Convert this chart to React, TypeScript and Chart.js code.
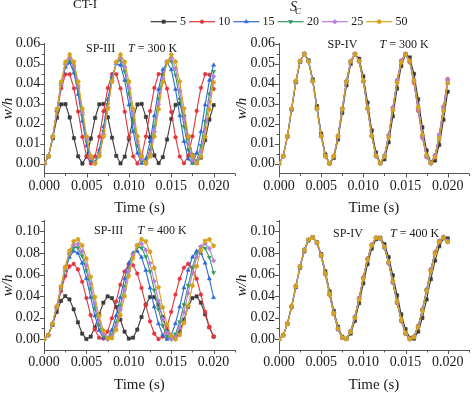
import React, { useEffect, useRef } from 'react';
import { Chart, registerables } from 'chart.js';
import { drawPoint } from 'chart.js/helpers';

Chart.register(...registerables);

// ---------------- data ----------------
const TIME = [0, 0.0005, 0.001, 0.0015, 0.002, 0.0025, 0.003, 0.0035, 0.004, 0.0045, 0.005, 0.0055, 0.006, 0.0065, 0.007, 0.0075, 0.008, 0.0085, 0.009, 0.0095, 0.01, 0.0105, 0.011, 0.0115, 0.012, 0.0125, 0.013, 0.0135, 0.014, 0.0145, 0.015, 0.0155, 0.016, 0.0165, 0.017, 0.0175, 0.018, 0.0185, 0.019, 0.0195, 0.02];
const SC_LABELS = ['5', '10', '15', '20', '25', '50'];
const X_MAJOR = [0, 0.005, 0.01, 0.015, 0.02];
const X_MINOR = [0.0025, 0.0075, 0.0125, 0.0175, 0.0225];
const Y_MAJOR_300 = [0, 0.01, 0.02, 0.03, 0.04, 0.05, 0.06];
const Y_MINOR_300 = [0.005, 0.015, 0.025, 0.035, 0.045, 0.055];
const Y_MAJOR_400 = [0, 0.02, 0.04, 0.06, 0.08, 0.1];
const Y_MINOR_400 = [0.01, 0.03, 0.05, 0.07, 0.09, 0.11];

// SP-III, T = 300 K
const TL_5 = [0, 0.0036, 0.0126, 0.0229, 0.0296, 0.0297, 0.0230, 0.0127, 0.0036, 0, 0.0035, 0.0125, 0.0228, 0.0296, 0.0298, 0.0231, 0.0129, 0.0038, 0.0001, 0.0034, 0.0123, 0.0226, 0.0295, 0.0298, 0.0233, 0.0131, 0.0040, 0.0002, 0.0032, 0.0120, 0.0223, 0.0293, 0.0299, 0.0235, 0.0133, 0.0042, 0.0003, 0.0030, 0.0117, 0.0220, 0.0292];
const TL_10 = [0, 0.0036, 0.0133, 0.0260, 0.0376, 0.0446, 0.0446, 0.0376, 0.0260, 0.0133, 0.0036, 0, 0.0036, 0.0134, 0.0261, 0.0377, 0.0447, 0.0446, 0.0375, 0.0259, 0.0132, 0.0036, 0, 0.0037, 0.0135, 0.0262, 0.0378, 0.0447, 0.0445, 0.0374, 0.0258, 0.0131, 0.0035, 0.0001, 0.0038, 0.0136, 0.0263, 0.0379, 0.0447, 0.0444, 0.0373];
const TL_15 = [0, 0.0036, 0.0134, 0.0266, 0.0394, 0.0482, 0.0504, 0.0453, 0.0346, 0.0212, 0.0089, 0.0013, 0.0006, 0.0069, 0.0185, 0.0320, 0.0436, 0.0499, 0.0492, 0.0416, 0.0293, 0.0159, 0.0052, 0.0001, 0.0023, 0.0111, 0.0239, 0.0371, 0.0469, 0.0505, 0.0469, 0.0371, 0.0239, 0.0111, 0.0023, 0.0001, 0.0052, 0.0159, 0.0293, 0.0416, 0.0492];
const TL_20 = [0, 0.0036, 0.0134, 0.0267, 0.0398, 0.0491, 0.0520, 0.0477, 0.0374, 0.0239, 0.0111, 0.0023, 0.0002, 0.0051, 0.0159, 0.0295, 0.0421, 0.0502, 0.0517, 0.0460, 0.0348, 0.0212, 0.0089, 0.0013, 0.0006, 0.0069, 0.0185, 0.0322, 0.0442, 0.0511, 0.0511, 0.0441, 0.0322, 0.0185, 0.0069, 0.0006, 0.0013, 0.0089, 0.0212, 0.0348, 0.0460];
const TL_25 = [0, 0.0036, 0.0135, 0.0268, 0.0401, 0.0497, 0.0530, 0.0490, 0.0389, 0.0255, 0.0123, 0.0029, 0.0000, 0.0043, 0.0147, 0.0282, 0.0413, 0.0504, 0.0529, 0.0483, 0.0377, 0.0241, 0.0111, 0.0023, 0.0001, 0.0051, 0.0159, 0.0296, 0.0424, 0.0509, 0.0528, 0.0475, 0.0364, 0.0227, 0.0100, 0.0018, 0.0003, 0.0060, 0.0172, 0.0310, 0.0435];
const TL_50 = [0, 0.0037, 0.0136, 0.0273, 0.0409, 0.0508, 0.0545, 0.0508, 0.0409, 0.0273, 0.0136, 0.0037, 0, 0.0037, 0.0136, 0.0273, 0.0409, 0.0508, 0.0545, 0.0508, 0.0409, 0.0273, 0.0136, 0.0037, 0.0001, 0.0036, 0.0135, 0.0272, 0.0408, 0.0508, 0.0545, 0.0509, 0.0410, 0.0274, 0.0137, 0.0038, 0.0001, 0.0035, 0.0134, 0.0270, 0.0406];

// SP-IV, T = 300 K
const TR_5 = [0, 0.0036, 0.0135, 0.0270, 0.0406, 0.0508, 0.0548, 0.0516, 0.0421, 0.0287, 0.0149, 0.0045, 0.0001, 0.0028, 0.0120, 0.0253, 0.0391, 0.0498, 0.0547, 0.0524, 0.0435, 0.0304, 0.0165, 0.0055, 0.0002, 0.0021, 0.0106, 0.0236, 0.0375, 0.0488, 0.0545, 0.0530, 0.0448, 0.0321, 0.0181, 0.0065, 0.0005, 0.0015, 0.0093, 0.0219, 0.0359];
const TR_10 = [0, 0.0037, 0.0137, 0.0274, 0.0411, 0.0511, 0.0548, 0.0511, 0.0411, 0.0274, 0.0137, 0.0037, 0, 0.0037, 0.0137, 0.0274, 0.0411, 0.0511, 0.0548, 0.0511, 0.0411, 0.0274, 0.0137, 0.0037, 0.0001, 0.0040, 0.0142, 0.0280, 0.0417, 0.0515, 0.0548, 0.0506, 0.0402, 0.0263, 0.0128, 0.0032, 0.0001, 0.0042, 0.0145, 0.0285, 0.0422];
const TR_15 = [0, 0.0037, 0.0136, 0.0273, 0.0410, 0.0510, 0.0548, 0.0512, 0.0412, 0.0275, 0.0138, 0.0038, 0, 0.0036, 0.0136, 0.0273, 0.0410, 0.0511, 0.0548, 0.0512, 0.0412, 0.0276, 0.0139, 0.0039, 0.0001, 0.0036, 0.0135, 0.0271, 0.0408, 0.0509, 0.0547, 0.0513, 0.0414, 0.0278, 0.0141, 0.0040, 0.0002, 0.0035, 0.0133, 0.0269, 0.0406];
const TR_20 = [0, 0.0037, 0.0137, 0.0274, 0.0411, 0.0511, 0.0548, 0.0511, 0.0411, 0.0274, 0.0137, 0.0037, 0, 0.0037, 0.0137, 0.0274, 0.0411, 0.0511, 0.0548, 0.0511, 0.0411, 0.0274, 0.0137, 0.0037, 0, 0.0037, 0.0137, 0.0274, 0.0411, 0.0511, 0.0548, 0.0511, 0.0411, 0.0274, 0.0137, 0.0037, 0, 0.0037, 0.0137, 0.0274, 0.0411];
const TR_25 = [0, 0.0037, 0.0137, 0.0275, 0.0412, 0.0512, 0.0548, 0.0510, 0.0410, 0.0273, 0.0136, 0.0036, 0, 0.0038, 0.0139, 0.0276, 0.0413, 0.0512, 0.0548, 0.0510, 0.0409, 0.0272, 0.0135, 0.0035, 0.0001, 0.0039, 0.0141, 0.0279, 0.0416, 0.0514, 0.0548, 0.0508, 0.0406, 0.0268, 0.0131, 0.0033, 0.0001, 0.0040, 0.0143, 0.0281, 0.0418];
const TR_50 = [0, 0.0038, 0.0138, 0.0275, 0.0412, 0.0512, 0.0547, 0.0510, 0.0410, 0.0273, 0.0136, 0.0036, 0.0001, 0.0036, 0.0135, 0.0272, 0.0409, 0.0510, 0.0547, 0.0512, 0.0413, 0.0276, 0.0139, 0.0039, 0.0002, 0.0034, 0.0132, 0.0268, 0.0405, 0.0506, 0.0546, 0.0514, 0.0417, 0.0282, 0.0145, 0.0043, 0.0003, 0.0032, 0.0128, 0.0263, 0.0402];

// SP-III, T = 400 K
const BL_5 = [0, 0.0037, 0.0134, 0.0255, 0.0356, 0.0400, 0.0370, 0.0278, 0.0157, 0.0052, 0.0002, 0.0024, 0.0111, 0.0231, 0.0339, 0.0397, 0.0382, 0.0300, 0.0182, 0.0070, 0.0006, 0.0014, 0.0090, 0.0206, 0.0321, 0.0391, 0.0391, 0.0321, 0.0206, 0.0090, 0.0014, 0.0006, 0.0070, 0.0182, 0.0300, 0.0382, 0.0397, 0.0339, 0.0231, 0.0111, 0.0024];
const BL_10 = [0, 0.0037, 0.0139, 0.0286, 0.0446, 0.0586, 0.0676, 0.0699, 0.0648, 0.0534, 0.0382, 0.0224, 0.0091, 0.0013, 0.0006, 0.0071, 0.0194, 0.0350, 0.0506, 0.0629, 0.0694, 0.0687, 0.0609, 0.0476, 0.0318, 0.0166, 0.0052, 0.0001, 0.0024, 0.0114, 0.0254, 0.0414, 0.0561, 0.0663, 0.0700, 0.0663, 0.0561, 0.0414, 0.0254, 0.0114, 0.0024];
const BL_15 = [0, 0.0038, 0.0145, 0.0300, 0.0476, 0.0640, 0.0761, 0.0818, 0.0799, 0.0707, 0.0562, 0.0388, 0.0218, 0.0083, 0.0010, 0.0010, 0.0084, 0.0218, 0.0388, 0.0562, 0.0708, 0.0799, 0.0818, 0.0761, 0.0640, 0.0476, 0.0300, 0.0144, 0.0038, 0.0000, 0.0038, 0.0145, 0.0301, 0.0477, 0.0641, 0.0762, 0.0818, 0.0798, 0.0707, 0.0561, 0.0387];
const BL_20 = [0, 0.0037, 0.0143, 0.0299, 0.0478, 0.0648, 0.0780, 0.0852, 0.0849, 0.0774, 0.0638, 0.0467, 0.0289, 0.0135, 0.0033, 0.0000, 0.0042, 0.0152, 0.0310, 0.0489, 0.0658, 0.0787, 0.0854, 0.0847, 0.0767, 0.0629, 0.0456, 0.0278, 0.0127, 0.0029, 0.0001, 0.0047, 0.0161, 0.0321, 0.0500, 0.0667, 0.0793, 0.0856, 0.0844, 0.0760, 0.0619];
const BL_25 = [0, 0.0038, 0.0145, 0.0302, 0.0484, 0.0659, 0.0798, 0.0877, 0.0883, 0.0815, 0.0683, 0.0512, 0.0329, 0.0166, 0.0050, 0.0001, 0.0027, 0.0124, 0.0276, 0.0456, 0.0634, 0.0781, 0.0870, 0.0887, 0.0829, 0.0707, 0.0539, 0.0356, 0.0188, 0.0063, 0.0003, 0.0018, 0.0106, 0.0251, 0.0428, 0.0609, 0.0762, 0.0861, 0.0889, 0.0843, 0.0729];
const BL_50 = [0, 0.0038, 0.0145, 0.0304, 0.0490, 0.0671, 0.0819, 0.0909, 0.0927, 0.0870, 0.0747, 0.0579, 0.0391, 0.0216, 0.0081, 0.0009, 0.0010, 0.0086, 0.0223, 0.0400, 0.0587, 0.0754, 0.0874, 0.0928, 0.0907, 0.0813, 0.0663, 0.0481, 0.0296, 0.0139, 0.0034, 0.0000, 0.0041, 0.0151, 0.0312, 0.0498, 0.0679, 0.0824, 0.0912, 0.0926, 0.0866];

// SP-IV, T = 400 K
const BR_5 = [0, 0.0037, 0.0142, 0.0298, 0.0482, 0.0664, 0.0816, 0.0915, 0.0945, 0.0901, 0.0790, 0.0629, 0.0444, 0.0264, 0.0116, 0.0024, 0.0002, 0.0053, 0.0170, 0.0334, 0.0519, 0.0698, 0.0841, 0.0927, 0.0942, 0.0883, 0.0761, 0.0593, 0.0407, 0.0231, 0.0093, 0.0013, 0.0006, 0.0071, 0.0199, 0.0370, 0.0557, 0.0730, 0.0863, 0.0936, 0.0936];
const BR_10 = [0, 0.0038, 0.0147, 0.0307, 0.0495, 0.0679, 0.0831, 0.0925, 0.0946, 0.0892, 0.0771, 0.0602, 0.0412, 0.0232, 0.0091, 0.0012, 0.0007, 0.0076, 0.0209, 0.0384, 0.0574, 0.0747, 0.0878, 0.0943, 0.0932, 0.0849, 0.0705, 0.0524, 0.0335, 0.0168, 0.0050, 0.0001, 0.0027, 0.0124, 0.0277, 0.0462, 0.0648, 0.0807, 0.0913, 0.0948, 0.0906];
const BR_15 = [0, 0.0038, 0.0146, 0.0306, 0.0494, 0.0678, 0.0830, 0.0924, 0.0946, 0.0893, 0.0773, 0.0604, 0.0415, 0.0235, 0.0093, 0.0013, 0.0006, 0.0074, 0.0207, 0.0381, 0.0571, 0.0745, 0.0876, 0.0942, 0.0933, 0.0851, 0.0708, 0.0528, 0.0339, 0.0171, 0.0052, 0.0002, 0.0025, 0.0121, 0.0274, 0.0458, 0.0645, 0.0804, 0.0911, 0.0948, 0.0908];
const BR_20 = [0, 0.0038, 0.0146, 0.0306, 0.0493, 0.0677, 0.0829, 0.0924, 0.0946, 0.0894, 0.0774, 0.0606, 0.0417, 0.0237, 0.0095, 0.0014, 0.0006, 0.0073, 0.0205, 0.0379, 0.0569, 0.0743, 0.0875, 0.0942, 0.0934, 0.0853, 0.0711, 0.0531, 0.0342, 0.0174, 0.0054, 0.0002, 0.0024, 0.0119, 0.0271, 0.0455, 0.0642, 0.0802, 0.0910, 0.0948, 0.0910];
const BR_25 = [0, 0.0038, 0.0146, 0.0305, 0.0492, 0.0676, 0.0828, 0.0923, 0.0946, 0.0895, 0.0776, 0.0608, 0.0419, 0.0239, 0.0097, 0.0015, 0.0005, 0.0071, 0.0203, 0.0376, 0.0566, 0.0741, 0.0873, 0.0941, 0.0935, 0.0855, 0.0714, 0.0534, 0.0345, 0.0177, 0.0056, 0.0003, 0.0022, 0.0116, 0.0268, 0.0452, 0.0639, 0.0799, 0.0908, 0.0947, 0.0912];
const BR_50 = [0, 0.0038, 0.0145, 0.0304, 0.0491, 0.0674, 0.0826, 0.0922, 0.0946, 0.0896, 0.0778, 0.0611, 0.0422, 0.0242, 0.0099, 0.0016, 0.0004, 0.0069, 0.0200, 0.0373, 0.0563, 0.0738, 0.0871, 0.0940, 0.0937, 0.0858, 0.0718, 0.0538, 0.0348, 0.0180, 0.0058, 0.0004, 0.0020, 0.0113, 0.0264, 0.0448, 0.0635, 0.0796, 0.0906, 0.0942, 0.0902];

// ---------------- styles ----------------
const FONT = "'Liberation Serif', 'Times New Roman', serif";
const TEXT = '#1a1a1a';
const AXIS = '#555555';
const STYLES = [
  { color: '#3b3b3b', pointStyle: 'rect', radius: 2.3, rotation: 0, bw: 0.6 },
  { color: '#e4343b', pointStyle: 'circle', radius: 1.8, rotation: 0, bw: 0.6 },
  { color: '#2f68d6', pointStyle: 'triangle', radius: 2.3, rotation: 0, bw: 0.6 },
  { color: '#2f9a5c', pointStyle: 'triangle', radius: 2.3, rotation: 180, bw: 0.6 },
  { color: '#b47de2', pointStyle: 'rectRot', radius: 2.3, rotation: 0, bw: 0.6 },
  { color: '#d6a21c', pointStyle: 'star', radius: 2.4, rotation: 0, bw: 1.2 },
];

type Note = { x: number; y: number; label: string; tx: number; temp: string };
type Panel = {
  left: number; top: number; width: number; height: number;
  padTop: number; padRight: number; yW: number; xH: number; xTitlePad: number;
  yMin: number; yMax: number; yMajor: number[]; yMinor: number[];
  series: number[][]; notes: Note[];
};

const PANELS: Panel[] = [
  { left: 0, top: 30, width: 240, height: 188, padTop: 13.5, padRight: 1.7, yW: 44.3, xH: 44.5, xTitlePad: 2.2,
    yMin: -0.005, yMax: 0.06, yMajor: Y_MAJOR_300, yMinor: Y_MINOR_300,
    series: [TL_5, TL_10, TL_15, TL_20, TL_25, TL_50],
    notes: [{ x: 86, y: 48.5, label: 'SP-III', tx: 128, temp: ' = 300 K' }] },
  { left: 234, top: 30, width: 240, height: 188, padTop: 13.5, padRight: 1, yW: 45, xH: 44.5, xTitlePad: 2.2,
    yMin: -0.005, yMax: 0.06, yMajor: Y_MAJOR_300, yMinor: Y_MINOR_300,
    series: [TR_5, TR_10, TR_15, TR_20, TR_25, TR_50],
    notes: [{ x: 327.5, y: 45, label: 'SP-IV', tx: 379.5, temp: ' = 300 K' }] },
  { left: 0, top: 215, width: 240, height: 178, padTop: 5.7, padRight: 2, yW: 44, xH: 43, xTitlePad: 0,
    yMin: -0.01, yMax: 0.11, yMajor: Y_MAJOR_400, yMinor: Y_MINOR_400,
    series: [BL_5, BL_10, BL_15, BL_20, BL_25, BL_50],
    notes: [{ x: 94, y: 231, label: 'SP-III', tx: 137.5, temp: ' = 400 K' }] },
  { left: 234, top: 215, width: 240, height: 178, padTop: 5.7, padRight: 1, yW: 45, xH: 43, xTitlePad: 0,
    yMin: -0.01, yMax: 0.11, yMajor: Y_MAJOR_400, yMinor: Y_MINOR_400,
    series: [BR_5, BR_10, BR_15, BR_20, BR_25, BR_50],
    notes: [{ x: 333, y: 234, label: 'SP-IV', tx: 390, temp: ' = 400 K' }] },
];

function panelPlugin(p: Panel) {
  return {
    id: 'panelDecor',
    afterDraw(chart: any) {
      const { ctx, chartArea, scales } = chart;
      const xs = scales.x;
      const ys = scales.y;
      ctx.save();
      ctx.strokeStyle = AXIS;
      ctx.lineWidth = 1;
      const b = chartArea.bottom;
      const l = chartArea.left;
      const tick = (vals: number[], len: number, horiz: boolean) => {
        vals.forEach((v) => {
          ctx.beginPath();
          if (horiz) {
            const px = Math.round(xs.getPixelForValue(v)) + 0.5;
            ctx.moveTo(px, b);
            ctx.lineTo(px, b + len);
          } else {
            const py = Math.round(ys.getPixelForValue(v)) + 0.5;
            ctx.moveTo(l, py);
            ctx.lineTo(l - len, py);
          }
          ctx.stroke();
        });
      };
      tick(X_MAJOR, 4, true);
      tick(X_MINOR, 2.5, true);
      tick(p.yMajor, 4, false);
      tick(p.yMinor, 2.5, false);
      ctx.fillStyle = TEXT;
      ctx.textBaseline = 'middle';
      ctx.textAlign = 'left';
      p.notes.forEach((n) => {
        const y = n.y - p.top;
        ctx.font = `normal 12px ${FONT}`;
        ctx.fillText(n.label, n.x - p.left, y);
        ctx.font = `italic 12px ${FONT}`;
        ctx.fillText('T', n.tx - p.left, y);
        const w = ctx.measureText('T').width;
        ctx.font = `normal 12px ${FONT}`;
        ctx.fillText(n.temp, n.tx - p.left + w, y);
      });
      ctx.restore();
    },
  };
}

function buildConfig(p: Panel): any {
  return {
    type: 'line',
    data: {
      datasets: SC_LABELS.map((lab, k) => ({
        label: lab,
        data: TIME.map((t, i) => ({ x: t, y: p.series[k][i] })),
        borderColor: STYLES[k].color,
        backgroundColor: STYLES[k].color,
        borderWidth: 1.1,
        pointStyle: STYLES[k].pointStyle,
        pointRadius: STYLES[k].radius,
        pointRotation: STYLES[k].rotation,
        pointBorderWidth: STYLES[k].bw,
        tension: 0,
        order: 6 - k,
      })),
    },
    options: {
      responsive: false,
      animation: false,
      events: [],
      layout: { padding: { top: p.padTop, right: p.padRight, left: 0, bottom: 0 } },
      plugins: { legend: { display: false }, tooltip: { enabled: false } },
      scales: {
        x: {
          type: 'linear',
          min: 0,
          max: 0.0225,
          grid: { display: false, drawTicks: false },
          border: { display: true, color: AXIS, width: 1 },
          afterBuildTicks: (s: any) => { s.ticks = X_MAJOR.map((v) => ({ value: v })); },
          afterFit: (s: any) => { s.height = p.xH; s.paddingLeft = 0; s.paddingRight = 0; },
          ticks: {
            autoSkip: false, maxRotation: 0, minRotation: 0, padding: 4, color: TEXT,
            font: { family: FONT, size: 14, weight: 'normal' },
            callback: (v: any) => Number(v).toFixed(3),
          },
          title: {
            display: true, text: 'Time (s)', color: TEXT,
            font: { family: FONT, size: 15, lineHeight: 1, weight: 'normal' },
            padding: { top: 0, bottom: p.xTitlePad },
          },
        },
        y: {
          type: 'linear',
          min: p.yMin,
          max: p.yMax,
          grid: { display: false, drawTicks: false },
          border: { display: true, color: AXIS, width: 1 },
          afterBuildTicks: (s: any) => { s.ticks = p.yMajor.map((v) => ({ value: v })); },
          afterFit: (s: any) => { s.width = p.yW; s.paddingTop = 0; s.paddingBottom = 0; },
          ticks: {
            autoSkip: false, padding: 4, color: TEXT,
            font: { family: FONT, size: 14, weight: 'normal' },
            callback: (v: any) => Number(v).toFixed(2),
          },
          title: {
            display: true, text: 'w/h', color: TEXT,
            font: { family: FONT, size: 15, style: 'italic', lineHeight: 1, weight: 'normal' },
            padding: { top: 0.3, bottom: 0 },
          },
        },
      },
    },
    plugins: [panelPlugin(p)],
  };
}

const headerPlugin = {
  id: 'headerLegend',
  afterDraw(chart: any) {
    const ctx = chart.ctx;
    ctx.save();
    ctx.fillStyle = TEXT;
    ctx.textBaseline = 'alphabetic';
    ctx.textAlign = 'left';
    ctx.font = `normal 13px ${FONT}`;
    ctx.fillText('CT-I', 73, 7.5);
    ctx.font = `italic 14px ${FONT}`;
    ctx.fillText('S', 290, 11);
    ctx.font = `italic 9px ${FONT}`;
    ctx.fillText('C', 295, 14);
    const y = 21.7;
    let x = 150.7;
    ctx.font = `normal 12px ${FONT}`;
    ctx.textBaseline = 'middle';
    chart.data.datasets.forEach((ds: any) => {
      ctx.strokeStyle = ds.borderColor;
      ctx.fillStyle = ds.backgroundColor;
      ctx.lineWidth = 1.2;
      ctx.beginPath();
      ctx.moveTo(x, y);
      ctx.lineTo(x + 26, y);
      ctx.stroke();
      ctx.lineWidth = ds.pointBorderWidth;
      drawPoint(ctx, { pointStyle: ds.pointStyle, radius: ds.pointRadius, rotation: ds.pointRotation, borderWidth: ds.pointBorderWidth }, x + 13, y);
      ctx.fillStyle = TEXT;
      ctx.fillText(ds.label, x + 29.3, y);
      x += 29.3 + ctx.measureText(ds.label).width + 3;
    });
    ctx.restore();
  },
};

function App() {
  const headRef = useRef<HTMLCanvasElement | null>(null);
  const refs = useRef<(HTMLCanvasElement | null)[]>([]);

  useEffect(() => {
    const charts: Chart[] = [];
    if (headRef.current) {
      charts.push(new Chart(headRef.current, {
        type: 'line',
        data: {
          datasets: SC_LABELS.map((lab, k) => ({
            label: lab, data: [],
            borderColor: STYLES[k].color, backgroundColor: STYLES[k].color,
            pointStyle: STYLES[k].pointStyle, pointRadius: STYLES[k].radius,
            pointRotation: STYLES[k].rotation,
            pointBorderWidth: STYLES[k].bw,
          })),
        },
        options: {
          responsive: false, animation: false, events: [],
          plugins: { legend: { display: false }, tooltip: { enabled: false } },
          scales: { x: { display: false }, y: { display: false } },
        },
        plugins: [headerPlugin],
      } as any));
    }
    PANELS.forEach((p, i) => {
      const c = refs.current[i];
      if (c) charts.push(new Chart(c, buildConfig(p)));
    });
    return () => charts.forEach((c) => c.destroy());
  }, []);

  return (
    <div style={{ position: 'fixed', left: 0, top: 0, width: 474, height: 393, background: '#ffffff', overflow: 'hidden' }}>
      <canvas ref={headRef} width={474} height={32} style={{ position: 'absolute', left: 0, top: 0 }} />
      {PANELS.map((p, i) => (
        <canvas
          key={i}
          ref={(el) => { refs.current[i] = el; }}
          width={p.width}
          height={p.height}
          style={{ position: 'absolute', left: p.left, top: p.top, width: p.width, height: p.height }}
        />
      ))}
    </div>
  );
}

export default App;
